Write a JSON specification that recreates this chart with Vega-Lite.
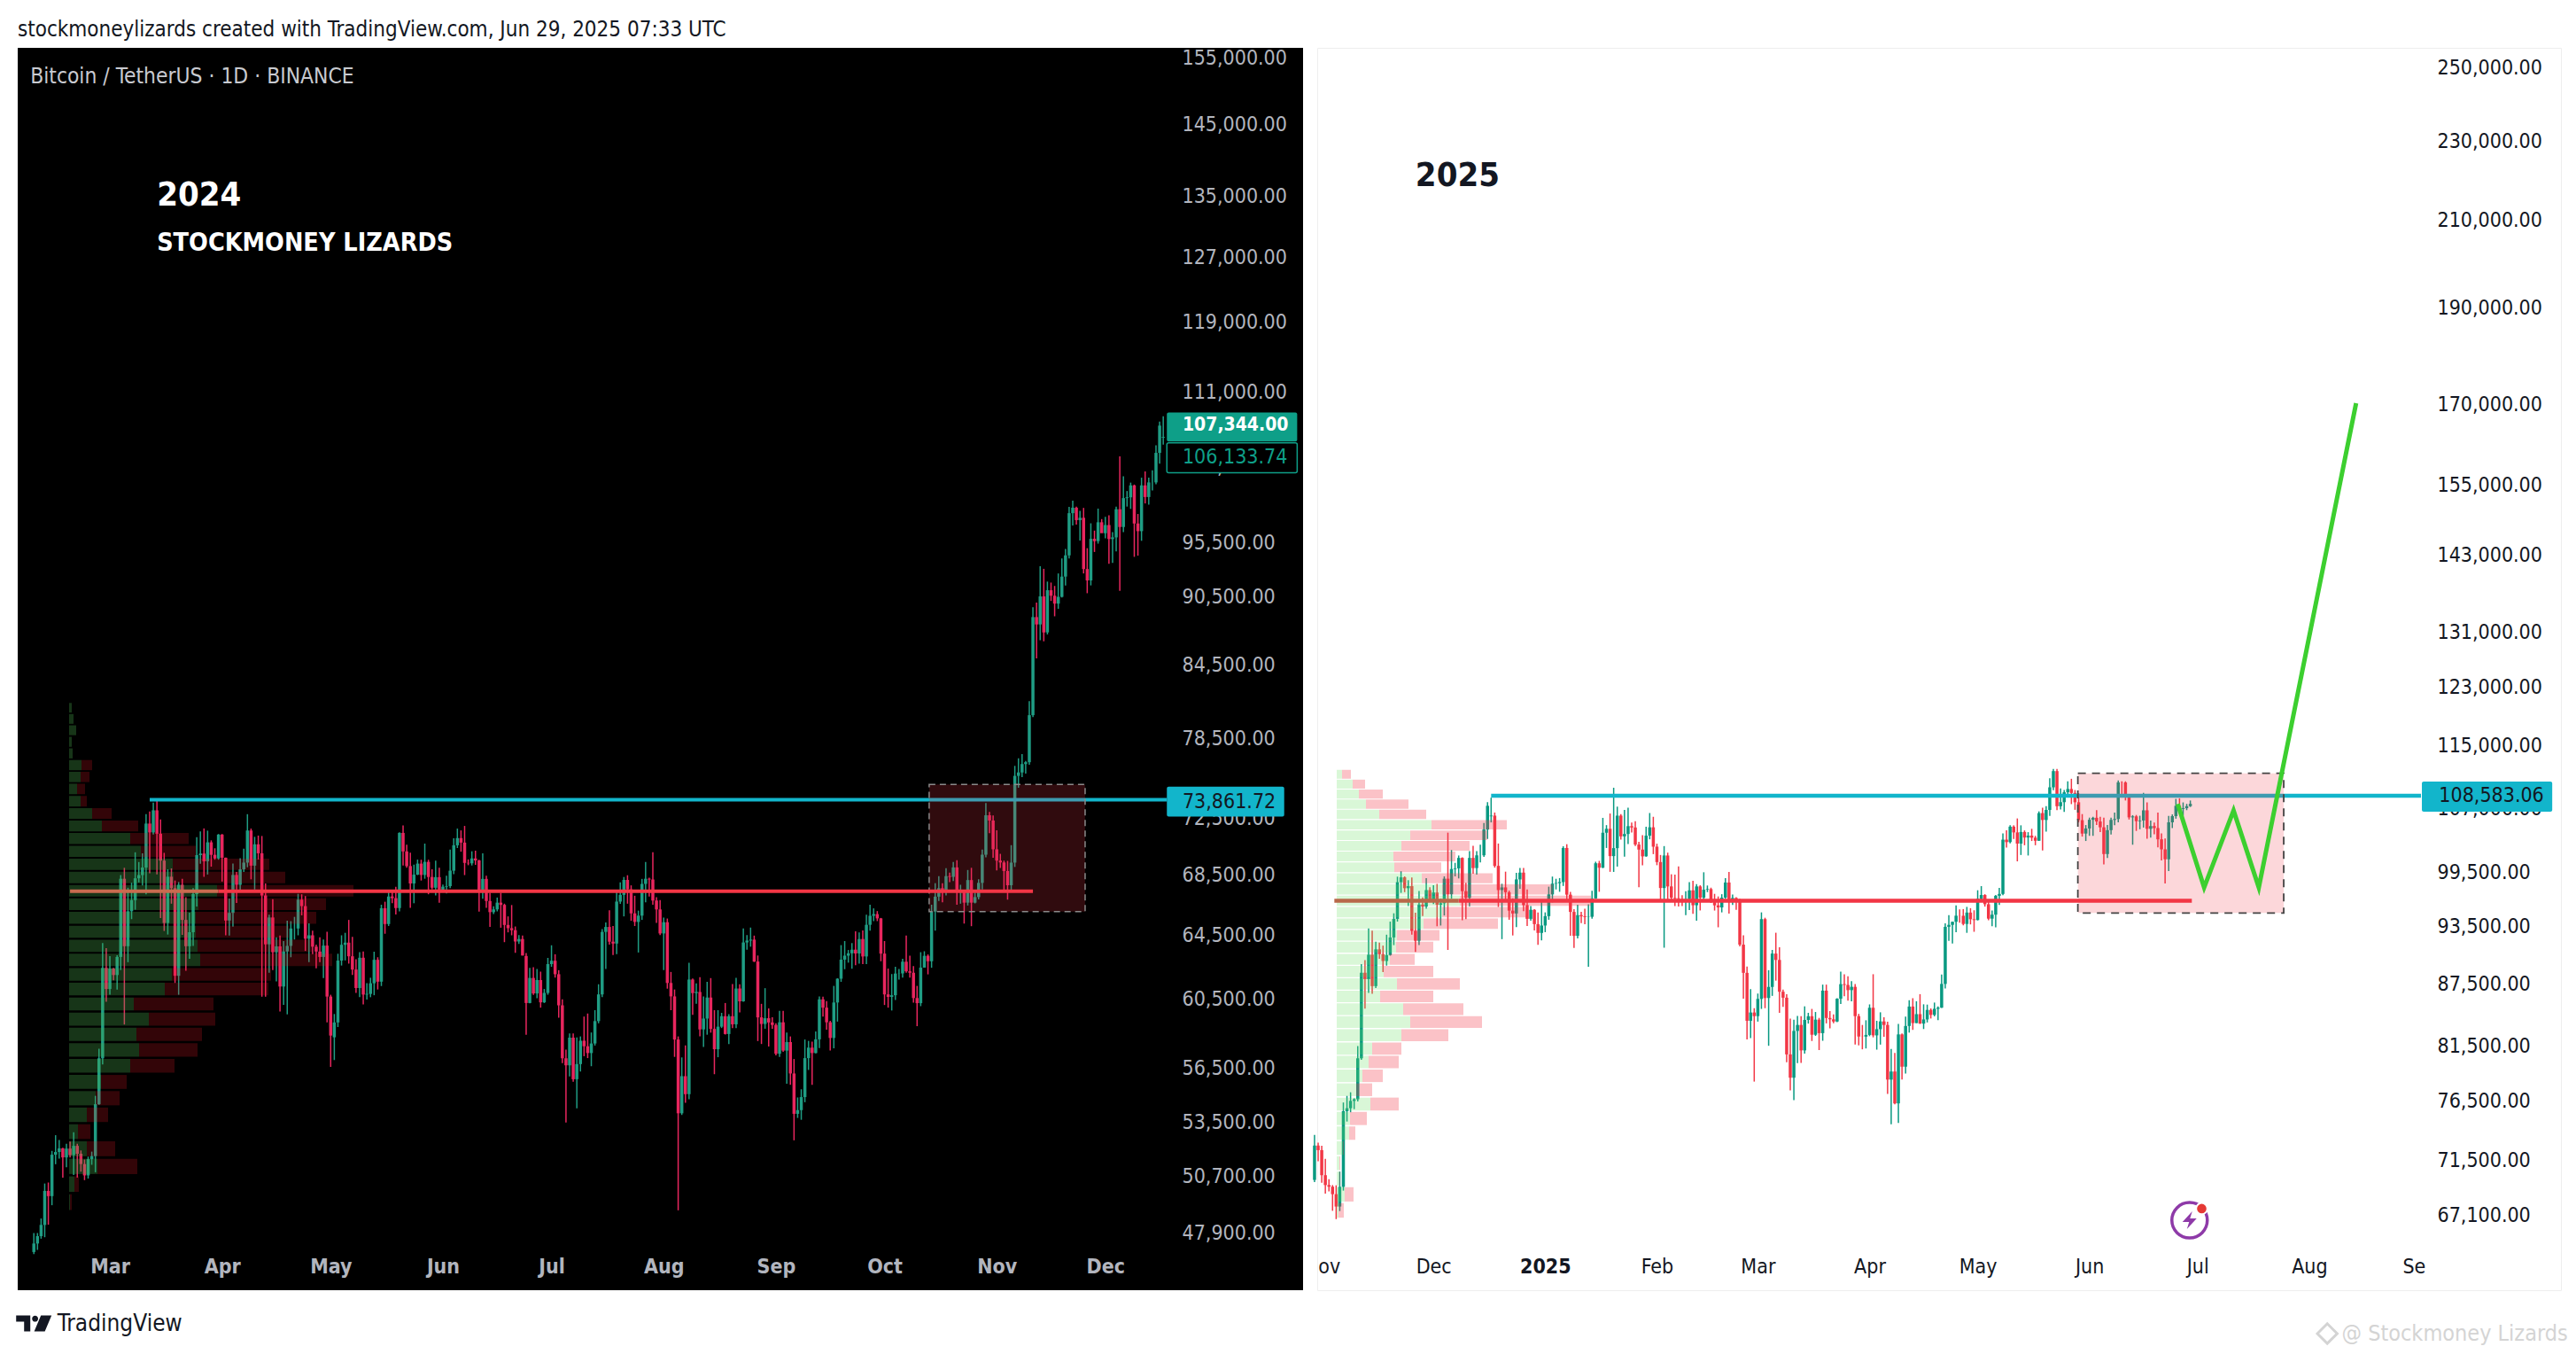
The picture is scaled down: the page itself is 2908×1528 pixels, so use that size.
{
"$schema":"https://vega.github.io/schema/vega-lite/v6.json",
"description":"Bitcoin 2024 vs 2025 daily candles with volume profile and drawn levels.",
"background":"white",
"padding":{"left":18,"top":21,"right":0,"bottom":0},
"spacing":10,
"title":{"text":"stockmoneylizards created with TradingView.com, Jun 29, 2025 07:33 UTC","anchor":"start","frame":"group","fontSize":24,"fontWeight":"normal","color":"#131722","offset":8},
"config":{"font":"DejaVu Sans Condensed","view":{"stroke":null}},
"datasets":{
"ohlc":[
{"d":"2024-02-09","o":47000,"h":47900,"l":46900,"c":47400},
{"d":"2024-02-10","o":47400,"h":47900,"l":47100,"c":47750},
{"d":"2024-02-11","o":47750,"h":48600,"l":47630,"c":48290},
{"d":"2024-02-12","o":48290,"h":50330,"l":47700,"c":49960},
{"d":"2024-02-13","o":49960,"h":50380,"l":48300,"c":49700},
{"d":"2024-02-14","o":49700,"h":52000,"l":49250,"c":51800},
{"d":"2024-02-15","o":51800,"h":52820,"l":51310,"c":51940},
{"d":"2024-02-16","o":51940,"h":52570,"l":51600,"c":52130},
{"d":"2024-02-17","o":52130,"h":52160,"l":50620,"c":51660},
{"d":"2024-02-18","o":51660,"h":52370,"l":51160,"c":52120},
{"d":"2024-02-19","o":52120,"h":52480,"l":51660,"c":51780},
{"d":"2024-02-20","o":51780,"h":52980,"l":50760,"c":52260},
{"d":"2024-02-21","o":52260,"h":52370,"l":50630,"c":51850},
{"d":"2024-02-22","o":51850,"h":52020,"l":50930,"c":51320},
{"d":"2024-02-23","o":51320,"h":51550,"l":50500,"c":50740},
{"d":"2024-02-24","o":50740,"h":51700,"l":50580,"c":51570},
{"d":"2024-02-25","o":51570,"h":51960,"l":51280,"c":51730},
{"d":"2024-02-26","o":51730,"h":54940,"l":50900,"c":54480},
{"d":"2024-02-27","o":54480,"h":57590,"l":54450,"c":57040},
{"d":"2024-02-28","o":57040,"h":64000,"l":56690,"c":62430},
{"d":"2024-02-29","o":62430,"h":63680,"l":60360,"c":61130},
{"d":"2024-03-01","o":61130,"h":63170,"l":60780,"c":62390},
{"d":"2024-03-02","o":62390,"h":62430,"l":61660,"c":61990},
{"d":"2024-03-03","o":61990,"h":63230,"l":61100,"c":63120},
{"d":"2024-03-04","o":63120,"h":68500,"l":62300,"c":68250},
{"d":"2024-03-05","o":68250,"h":69000,"l":59000,"c":63800},
{"d":"2024-03-06","o":63800,"h":67640,"l":62790,"c":66070},
{"d":"2024-03-07","o":66070,"h":67980,"l":65550,"c":66810},
{"d":"2024-03-08","o":66810,"h":70080,"l":66170,"c":68280},
{"d":"2024-03-09","o":68280,"h":69400,"l":68000,"c":68500},
{"d":"2024-03-10","o":68500,"h":70000,"l":67790,"c":69020},
{"d":"2024-03-11","o":69020,"h":72800,"l":67190,"c":72120},
{"d":"2024-03-12","o":72120,"h":73000,"l":68620,"c":71480},
{"d":"2024-03-13","o":71480,"h":73650,"l":71330,"c":73080},
{"d":"2024-03-14","o":73080,"h":73780,"l":68550,"c":71390},
{"d":"2024-03-15","o":71390,"h":72420,"l":65630,"c":69500},
{"d":"2024-03-16","o":69500,"h":70040,"l":64780,"c":65300},
{"d":"2024-03-17","o":65300,"h":68900,"l":64550,"c":68390},
{"d":"2024-03-18","o":68390,"h":68960,"l":66570,"c":67610},
{"d":"2024-03-19","o":67610,"h":68130,"l":61500,"c":61940},
{"d":"2024-03-20","o":61940,"h":68030,"l":60780,"c":67840},
{"d":"2024-03-21","o":67840,"h":68240,"l":64530,"c":65500},
{"d":"2024-03-22","o":65500,"h":67000,"l":62260,"c":63800},
{"d":"2024-03-23","o":63800,"h":65970,"l":63000,"c":64700},
{"d":"2024-03-24","o":64700,"h":67620,"l":63820,"c":67210},
{"d":"2024-03-25","o":67210,"h":71150,"l":66390,"c":69880},
{"d":"2024-03-26","o":69880,"h":71560,"l":69280,"c":69990},
{"d":"2024-03-27","o":69990,"h":71770,"l":68380,"c":69450},
{"d":"2024-03-28","o":69450,"h":71610,"l":68540,"c":70780},
{"d":"2024-03-29","o":70780,"h":70920,"l":69080,"c":69900},
{"d":"2024-03-30","o":69900,"h":70360,"l":69560,"c":69650},
{"d":"2024-03-31","o":69650,"h":71370,"l":69560,"c":71330},
{"d":"2024-04-01","o":71330,"h":71370,"l":68060,"c":69700},
{"d":"2024-04-02","o":69700,"h":69710,"l":64500,"c":65460},
{"d":"2024-04-03","o":65460,"h":66910,"l":64490,"c":65960},
{"d":"2024-04-04","o":65960,"h":69290,"l":65060,"c":68510},
{"d":"2024-04-05","o":68510,"h":68720,"l":66620,"c":67840},
{"d":"2024-04-06","o":67840,"h":69670,"l":67450,"c":68900},
{"d":"2024-04-07","o":68900,"h":70330,"l":68720,"c":69360},
{"d":"2024-04-08","o":69360,"h":72800,"l":69040,"c":71620},
{"d":"2024-04-09","o":71620,"h":71760,"l":68210,"c":69150},
{"d":"2024-04-10","o":69150,"h":71170,"l":67520,"c":70640},
{"d":"2024-04-11","o":70640,"h":71260,"l":69570,"c":70010},
{"d":"2024-04-12","o":70010,"h":71230,"l":60660,"c":67120},
{"d":"2024-04-13","o":67120,"h":67930,"l":60660,"c":63920},
{"d":"2024-04-14","o":63920,"h":65840,"l":62130,"c":65660},
{"d":"2024-04-15","o":65660,"h":66870,"l":62300,"c":63420},
{"d":"2024-04-16","o":63420,"h":64370,"l":61600,"c":63790},
{"d":"2024-04-17","o":63790,"h":64480,"l":59770,"c":61280},
{"d":"2024-04-18","o":61280,"h":64130,"l":60170,"c":63470},
{"d":"2024-04-19","o":63470,"h":65450,"l":59600,"c":63820},
{"d":"2024-04-20","o":63820,"h":65420,"l":63100,"c":64940},
{"d":"2024-04-21","o":64940,"h":65700,"l":64230,"c":64940},
{"d":"2024-04-22","o":64940,"h":67230,"l":64500,"c":66840},
{"d":"2024-04-23","o":66840,"h":67200,"l":65800,"c":66410},
{"d":"2024-04-24","o":66410,"h":67080,"l":63500,"c":64280},
{"d":"2024-04-25","o":64280,"h":65280,"l":62800,"c":64500},
{"d":"2024-04-26","o":64500,"h":64800,"l":63300,"c":63770},
{"d":"2024-04-27","o":63770,"h":63900,"l":62400,"c":63460},
{"d":"2024-04-28","o":63460,"h":64370,"l":62800,"c":63120},
{"d":"2024-04-29","o":63120,"h":64230,"l":61800,"c":63840},
{"d":"2024-04-30","o":63840,"h":64730,"l":59120,"c":60670},
{"d":"2024-05-01","o":60670,"h":60780,"l":56550,"c":58350},
{"d":"2024-05-02","o":58250,"h":59620,"l":56940,"c":59120},
{"d":"2024-05-03","o":59120,"h":63320,"l":58850,"c":62890},
{"d":"2024-05-04","o":62890,"h":64500,"l":62580,"c":63890},
{"d":"2024-05-05","o":63890,"h":64660,"l":62900,"c":64030},
{"d":"2024-05-06","o":64030,"h":65500,"l":62700,"c":63160},
{"d":"2024-05-07","o":63160,"h":64400,"l":62000,"c":62330},
{"d":"2024-05-08","o":62330,"h":62980,"l":60890,"c":61190},
{"d":"2024-05-09","o":61190,"h":63420,"l":60630,"c":63070},
{"d":"2024-05-10","o":63070,"h":63470,"l":60190,"c":60790},
{"d":"2024-05-11","o":60790,"h":61490,"l":60490,"c":60830},
{"d":"2024-05-12","o":60830,"h":61820,"l":60630,"c":61480},
{"d":"2024-05-13","o":61480,"h":63450,"l":60750,"c":62940},
{"d":"2024-05-14","o":62940,"h":63100,"l":61100,"c":61580},
{"d":"2024-05-15","o":61580,"h":66500,"l":61310,"c":66270},
{"d":"2024-05-16","o":66270,"h":66700,"l":64600,"c":65230},
{"d":"2024-05-17","o":65230,"h":67400,"l":65100,"c":67050},
{"d":"2024-05-18","o":67050,"h":67450,"l":66600,"c":66940},
{"d":"2024-05-19","o":66940,"h":67700,"l":65860,"c":66280},
{"d":"2024-05-20","o":66280,"h":71500,"l":66060,"c":71450},
{"d":"2024-05-21","o":71450,"h":71980,"l":69160,"c":70140},
{"d":"2024-05-22","o":70140,"h":70620,"l":69000,"c":69120},
{"d":"2024-05-23","o":69120,"h":70050,"l":66300,"c":67930},
{"d":"2024-05-24","o":67930,"h":69220,"l":66600,"c":68530},
{"d":"2024-05-25","o":68530,"h":69570,"l":68500,"c":69290},
{"d":"2024-05-26","o":69290,"h":69560,"l":68130,"c":68510},
{"d":"2024-05-27","o":68510,"h":70690,"l":68250,"c":69410},
{"d":"2024-05-28","o":69410,"h":69560,"l":67200,"c":68370},
{"d":"2024-05-29","o":68370,"h":68900,"l":67530,"c":67640},
{"d":"2024-05-30","o":67640,"h":69500,"l":67120,"c":68360},
{"d":"2024-05-31","o":68360,"h":69000,"l":66630,"c":67490},
{"d":"2024-06-01","o":67490,"h":67860,"l":67380,"c":67710},
{"d":"2024-06-02","o":67710,"h":68450,"l":67260,"c":67750},
{"d":"2024-06-03","o":67750,"h":70270,"l":67610,"c":68800},
{"d":"2024-06-04","o":68800,"h":71060,"l":68560,"c":70570},
{"d":"2024-06-05","o":70570,"h":71760,"l":70380,"c":71080},
{"d":"2024-06-06","o":71080,"h":71630,"l":70120,"c":70760},
{"d":"2024-06-07","o":70760,"h":71950,"l":68500,"c":69340},
{"d":"2024-06-08","o":69340,"h":69580,"l":69180,"c":69310},
{"d":"2024-06-09","o":69310,"h":70150,"l":69160,"c":69650},
{"d":"2024-06-10","o":69650,"h":70190,"l":69210,"c":69510},
{"d":"2024-06-11","o":69510,"h":69560,"l":66050,"c":67320},
{"d":"2024-06-12","o":67320,"h":70000,"l":66900,"c":68240},
{"d":"2024-06-13","o":68240,"h":68450,"l":66300,"c":66750},
{"d":"2024-06-14","o":66750,"h":67300,"l":65050,"c":66010},
{"d":"2024-06-15","o":66010,"h":66400,"l":65890,"c":66190},
{"d":"2024-06-16","o":66190,"h":66980,"l":66060,"c":66640},
{"d":"2024-06-17","o":66640,"h":67300,"l":64990,"c":66490},
{"d":"2024-06-18","o":66490,"h":66570,"l":64060,"c":65170},
{"d":"2024-06-19","o":65170,"h":65730,"l":64690,"c":64960},
{"d":"2024-06-20","o":64960,"h":66480,"l":64500,"c":64830},
{"d":"2024-06-21","o":64830,"h":65070,"l":63380,"c":64100},
{"d":"2024-06-22","o":64100,"h":64520,"l":63940,"c":64260},
{"d":"2024-06-23","o":64260,"h":64480,"l":63210,"c":63210},
{"d":"2024-06-24","o":63180,"h":63370,"l":58400,"c":60280},
{"d":"2024-06-25","o":60280,"h":62430,"l":60260,"c":61810},
{"d":"2024-06-26","o":61810,"h":62480,"l":60770,"c":60860},
{"d":"2024-06-27","o":60860,"h":62370,"l":60570,"c":61680},
{"d":"2024-06-28","o":61680,"h":62200,"l":60000,"c":60320},
{"d":"2024-06-29","o":60320,"h":61130,"l":60280,"c":60890},
{"d":"2024-06-30","o":60890,"h":63060,"l":60780,"c":62670},
{"d":"2024-07-01","o":62670,"h":63860,"l":62500,"c":62880},
{"d":"2024-07-02","o":62880,"h":63290,"l":61830,"c":62040},
{"d":"2024-07-03","o":62040,"h":62290,"l":59400,"c":60140},
{"d":"2024-07-04","o":60140,"h":60500,"l":56770,"c":57040},
{"d":"2024-07-05","o":57040,"h":57530,"l":53500,"c":56640},
{"d":"2024-07-06","o":56640,"h":58470,"l":56020,"c":58230},
{"d":"2024-07-07","o":58230,"h":58470,"l":55720,"c":55860},
{"d":"2024-07-08","o":55860,"h":58240,"l":54260,"c":56710},
{"d":"2024-07-09","o":56710,"h":58300,"l":56290,"c":58050},
{"d":"2024-07-10","o":58050,"h":59470,"l":57160,"c":57730},
{"d":"2024-07-11","o":57730,"h":59650,"l":57050,"c":57340},
{"d":"2024-07-12","o":57340,"h":58530,"l":56590,"c":57890},
{"d":"2024-07-13","o":57890,"h":59850,"l":57770,"c":59200},
{"d":"2024-07-14","o":59200,"h":61420,"l":59070,"c":60800},
{"d":"2024-07-15","o":60800,"h":64900,"l":60630,"c":64720},
{"d":"2024-07-16","o":64720,"h":65330,"l":62370,"c":65040},
{"d":"2024-07-17","o":65040,"h":66130,"l":63900,"c":64090},
{"d":"2024-07-18","o":64090,"h":65100,"l":63240,"c":63970},
{"d":"2024-07-19","o":63970,"h":67390,"l":63300,"c":66710},
{"d":"2024-07-20","o":66710,"h":68000,"l":66560,"c":67160},
{"d":"2024-07-21","o":67160,"h":68370,"l":65730,"c":68170},
{"d":"2024-07-22","o":68170,"h":68490,"l":66570,"c":67530},
{"d":"2024-07-23","o":67530,"h":67800,"l":65440,"c":65930},
{"d":"2024-07-24","o":65930,"h":67100,"l":65100,"c":65370},
{"d":"2024-07-25","o":65370,"h":66110,"l":63400,"c":65780},
{"d":"2024-07-26","o":65780,"h":68240,"l":65500,"c":67900},
{"d":"2024-07-27","o":67900,"h":69400,"l":66660,"c":68250},
{"d":"2024-07-28","o":68250,"h":68320,"l":67050,"c":68200},
{"d":"2024-07-29","o":68200,"h":70080,"l":66500,"c":66780},
{"d":"2024-07-30","o":66780,"h":67000,"l":65300,"c":66190},
{"d":"2024-07-31","o":66190,"h":66810,"l":64520,"c":64620},
{"d":"2024-08-01","o":64620,"h":65650,"l":62300,"c":65350},
{"d":"2024-08-02","o":65350,"h":65590,"l":61150,"c":61500},
{"d":"2024-08-03","o":61500,"h":62180,"l":59850,"c":60680},
{"d":"2024-08-04","o":60680,"h":61100,"l":57120,"c":58120},
{"d":"2024-08-05","o":58120,"h":58300,"l":49000,"c":53990},
{"d":"2024-08-06","o":53990,"h":57090,"l":53900,"c":56030},
{"d":"2024-08-07","o":56030,"h":57780,"l":54560,"c":55030},
{"d":"2024-08-08","o":55030,"h":62750,"l":54750,"c":61710},
{"d":"2024-08-09","o":61710,"h":61780,"l":59570,"c":60880},
{"d":"2024-08-10","o":60880,"h":61470,"l":60240,"c":60950},
{"d":"2024-08-11","o":60950,"h":61860,"l":58300,"c":58710},
{"d":"2024-08-12","o":58710,"h":60680,"l":57690,"c":59350},
{"d":"2024-08-13","o":59350,"h":61570,"l":58400,"c":60610},
{"d":"2024-08-14","o":60610,"h":61800,"l":58520,"c":58740},
{"d":"2024-08-15","o":58740,"h":59850,"l":56140,"c":57560},
{"d":"2024-08-16","o":57560,"h":59850,"l":57100,"c":58870},
{"d":"2024-08-17","o":58870,"h":59690,"l":58790,"c":59490},
{"d":"2024-08-18","o":59490,"h":60280,"l":58410,"c":58440},
{"d":"2024-08-19","o":58440,"h":59610,"l":57860,"c":59490},
{"d":"2024-08-20","o":59490,"h":61430,"l":58780,"c":59010},
{"d":"2024-08-21","o":59010,"h":61820,"l":58790,"c":61160},
{"d":"2024-08-22","o":61160,"h":61420,"l":59720,"c":60380},
{"d":"2024-08-23","o":60380,"h":64950,"l":60350,"c":64040},
{"d":"2024-08-24","o":64040,"h":64520,"l":63580,"c":64160},
{"d":"2024-08-25","o":64160,"h":65000,"l":63770,"c":64220},
{"d":"2024-08-26","o":64220,"h":64480,"l":62800,"c":62830},
{"d":"2024-08-27","o":62830,"h":63210,"l":58030,"c":59420},
{"d":"2024-08-28","o":59420,"h":60230,"l":57860,"c":59030},
{"d":"2024-08-29","o":59030,"h":61180,"l":58750,"c":59370},
{"d":"2024-08-30","o":59370,"h":59950,"l":57720,"c":59120},
{"d":"2024-08-31","o":59120,"h":59430,"l":58740,"c":58970},
{"d":"2024-09-01","o":58970,"h":59070,"l":57200,"c":57300},
{"d":"2024-09-02","o":57300,"h":59810,"l":57120,"c":59130},
{"d":"2024-09-03","o":59130,"h":59810,"l":57410,"c":57480},
{"d":"2024-09-04","o":57480,"h":58520,"l":55610,"c":57970},
{"d":"2024-09-05","o":57970,"h":58300,"l":55550,"c":56180},
{"d":"2024-09-06","o":56180,"h":57000,"l":52550,"c":53960},
{"d":"2024-09-07","o":53960,"h":54850,"l":53740,"c":54160},
{"d":"2024-09-08","o":54160,"h":55300,"l":53640,"c":54870},
{"d":"2024-09-09","o":54870,"h":58120,"l":54590,"c":57050},
{"d":"2024-09-10","o":57050,"h":58040,"l":56380,"c":57650},
{"d":"2024-09-11","o":57650,"h":58000,"l":55550,"c":57340},
{"d":"2024-09-12","o":57340,"h":58590,"l":57320,"c":58130},
{"d":"2024-09-13","o":58130,"h":60670,"l":57630,"c":60500},
{"d":"2024-09-14","o":60500,"h":60660,"l":59470,"c":60000},
{"d":"2024-09-15","o":60000,"h":60390,"l":58700,"c":59130},
{"d":"2024-09-16","o":59130,"h":59210,"l":57490,"c":58210},
{"d":"2024-09-17","o":58210,"h":61320,"l":57610,"c":60310},
{"d":"2024-09-18","o":60310,"h":61790,"l":59170,"c":61760},
{"d":"2024-09-19","o":61760,"h":63870,"l":61570,"c":62950},
{"d":"2024-09-20","o":62950,"h":64130,"l":62350,"c":63200},
{"d":"2024-09-21","o":63200,"h":63560,"l":62760,"c":63350},
{"d":"2024-09-22","o":63350,"h":64000,"l":62380,"c":63580},
{"d":"2024-09-23","o":63580,"h":64750,"l":62600,"c":63340},
{"d":"2024-09-24","o":63340,"h":64690,"l":62700,"c":64260},
{"d":"2024-09-25","o":64260,"h":64820,"l":62670,"c":63150},
{"d":"2024-09-26","o":63150,"h":65840,"l":62670,"c":65180},
{"d":"2024-09-27","o":65180,"h":66500,"l":64800,"c":65770},
{"d":"2024-09-28","o":65770,"h":66260,"l":65420,"c":65880},
{"d":"2024-09-29","o":65880,"h":66080,"l":65420,"c":65600},
{"d":"2024-09-30","o":65600,"h":65630,"l":62850,"c":63330},
{"d":"2024-10-01","o":63330,"h":64130,"l":60160,"c":60800},
{"d":"2024-10-02","o":60800,"h":62390,"l":60000,"c":60650},
{"d":"2024-10-03","o":60650,"h":62050,"l":59830,"c":60750},
{"d":"2024-10-04","o":60750,"h":62500,"l":60460,"c":62080},
{"d":"2024-10-05","o":62080,"h":62370,"l":61700,"c":62090},
{"d":"2024-10-06","o":62090,"h":63000,"l":61830,"c":62820},
{"d":"2024-10-07","o":62820,"h":64480,"l":62130,"c":62220},
{"d":"2024-10-08","o":62220,"h":63200,"l":61830,"c":62130},
{"d":"2024-10-09","o":62130,"h":62540,"l":60300,"c":60580},
{"d":"2024-10-10","o":60580,"h":61320,"l":58900,"c":60270},
{"d":"2024-10-11","o":60270,"h":63420,"l":60090,"c":62450},
{"d":"2024-10-12","o":62450,"h":63480,"l":62450,"c":63190},
{"d":"2024-10-13","o":63190,"h":63280,"l":62030,"c":62850},
{"d":"2024-10-14","o":62850,"h":66500,"l":62440,"c":66050},
{"d":"2024-10-15","o":66050,"h":67950,"l":64800,"c":67040},
{"d":"2024-10-16","o":67040,"h":68420,"l":66750,"c":67610},
{"d":"2024-10-17","o":67610,"h":67940,"l":66670,"c":67400},
{"d":"2024-10-18","o":67400,"h":68970,"l":67120,"c":68430},
{"d":"2024-10-19","o":68430,"h":68670,"l":68020,"c":68380},
{"d":"2024-10-20","o":68380,"h":69400,"l":68100,"c":69030},
{"d":"2024-10-21","o":69030,"h":69520,"l":66500,"c":67360},
{"d":"2024-10-22","o":67360,"h":67840,"l":66570,"c":67360},
{"d":"2024-10-23","o":67360,"h":67400,"l":65260,"c":66640},
{"d":"2024-10-24","o":66640,"h":68850,"l":66450,"c":68160},
{"d":"2024-10-25","o":68160,"h":69000,"l":65090,"c":66640},
{"d":"2024-10-26","o":66640,"h":67320,"l":66590,"c":67010},
{"d":"2024-10-27","o":67010,"h":68220,"l":66850,"c":67970},
{"d":"2024-10-28","o":67970,"h":70270,"l":67520,"c":69910},
{"d":"2024-10-29","o":69910,"h":73620,"l":69730,"c":72720},
{"d":"2024-10-30","o":72720,"h":72960,"l":71430,"c":72340},
{"d":"2024-10-31","o":72340,"h":72700,"l":69690,"c":70290},
{"d":"2024-11-01","o":70290,"h":71630,"l":68820,"c":69500},
{"d":"2024-11-02","o":69500,"h":69970,"l":68990,"c":69370},
{"d":"2024-11-03","o":69370,"h":69500,"l":67480,"c":68780},
{"d":"2024-11-04","o":68780,"h":69480,"l":66840,"c":67810},
{"d":"2024-11-05","o":67810,"h":70580,"l":67460,"c":69360},
{"d":"2024-11-06","o":69360,"h":76400,"l":69060,"c":75640},
{"d":"2024-11-07","o":75640,"h":76980,"l":74750,"c":75900},
{"d":"2024-11-08","o":75900,"h":77300,"l":75550,"c":76540},
{"d":"2024-11-09","o":76540,"h":76770,"l":75820,"c":76680},
{"d":"2024-11-10","o":76680,"h":81500,"l":76490,"c":80370},
{"d":"2024-11-11","o":80370,"h":89530,"l":80220,"c":88650},
{"d":"2024-11-12","o":88650,"h":89940,"l":85070,"c":88000},
{"d":"2024-11-13","o":88000,"h":93270,"l":86620,"c":90500},
{"d":"2024-11-14","o":90500,"h":93030,"l":86530,"c":87300},
{"d":"2024-11-15","o":87300,"h":91850,"l":87120,"c":91060},
{"d":"2024-11-16","o":91060,"h":91760,"l":90090,"c":90560},
{"d":"2024-11-17","o":90560,"h":91450,"l":88720,"c":89850},
{"d":"2024-11-18","o":89850,"h":92600,"l":89380,"c":90460},
{"d":"2024-11-19","o":90460,"h":94000,"l":90400,"c":92310},
{"d":"2024-11-20","o":92310,"h":94900,"l":91500,"c":94290},
{"d":"2024-11-21","o":94290,"h":98970,"l":94000,"c":98350},
{"d":"2024-11-22","o":98350,"h":99590,"l":97150,"c":98890},
{"d":"2024-11-23","o":98890,"h":99000,"l":97230,"c":97670},
{"d":"2024-11-24","o":97670,"h":98570,"l":95700,"c":97900},
{"d":"2024-11-25","o":97900,"h":98870,"l":92600,"c":93010},
{"d":"2024-11-26","o":93010,"h":94970,"l":90790,"c":91960},
{"d":"2024-11-27","o":91960,"h":97360,"l":91500,"c":95860},
{"d":"2024-11-28","o":95860,"h":96650,"l":94610,"c":95640},
{"d":"2024-11-29","o":95640,"h":98800,"l":95400,"c":97460},
{"d":"2024-11-30","o":97460,"h":97770,"l":96550,"c":96400},
{"d":"2024-12-01","o":96400,"h":98000,"l":95900,"c":97190},
{"d":"2024-12-02","o":97190,"h":98150,"l":93500,"c":95840},
{"d":"2024-12-03","o":95840,"h":96500,"l":93580,"c":96000},
{"d":"2024-12-04","o":96000,"h":99000,"l":94660,"c":98740},
{"d":"2024-12-05","o":98740,"h":104090,"l":91000,"c":97000},
{"d":"2024-12-06","o":97000,"h":102040,"l":96500,"c":99840},
{"d":"2024-12-07","o":99840,"h":100550,"l":99000,"c":99920},
{"d":"2024-12-08","o":99920,"h":101400,"l":98770,"c":101120},
{"d":"2024-12-09","o":101120,"h":101200,"l":94150,"c":97340},
{"d":"2024-12-10","o":97340,"h":98270,"l":94260,"c":96600},
{"d":"2024-12-11","o":96600,"h":101900,"l":95670,"c":101120},
{"d":"2024-12-12","o":101120,"h":102540,"l":99310,"c":99950},
{"d":"2024-12-13","o":99950,"h":101900,"l":99200,"c":101420},
{"d":"2024-12-14","o":101420,"h":102650,"l":100610,"c":101420},
{"d":"2024-12-15","o":101420,"h":105250,"l":101240,"c":104460},
{"d":"2024-12-16","o":104460,"h":107780,"l":103330,"c":107344},
{"d":"2024-12-17","o":106060,"h":108350,"l":105320,"c":106140},
{"d":"2024-12-18","o":106140,"h":106520,"l":100000,"c":100200},
{"d":"2024-12-19","o":100200,"h":102800,"l":95590,"c":97460},
{"d":"2024-12-20","o":97460,"h":98170,"l":92130,"c":97760},
{"d":"2024-12-21","o":97760,"h":99540,"l":96400,"c":97220},
{"d":"2024-12-22","o":97220,"h":97400,"l":94200,"c":95190},
{"d":"2024-12-23","o":95190,"h":96540,"l":92520,"c":94880},
{"d":"2024-12-24","o":94880,"h":99400,"l":93400,"c":98660},
{"d":"2024-12-25","o":98660,"h":99960,"l":97600,"c":99430},
{"d":"2024-12-26","o":99430,"h":99960,"l":95140,"c":95790},
{"d":"2024-12-27","o":95790,"h":97540,"l":93530,"c":94300},
{"d":"2024-12-28","o":94300,"h":95680,"l":94110,"c":95280},
{"d":"2024-12-29","o":95280,"h":95350,"l":93050,"c":93730},
{"d":"2024-12-30","o":93730,"h":95000,"l":91530,"c":92790},
{"d":"2024-12-31","o":92790,"h":96150,"l":92000,"c":93580},
{"d":"2025-01-01","o":93580,"h":95000,"l":92870,"c":94590},
{"d":"2025-01-02","o":94590,"h":97840,"l":94200,"c":96980},
{"d":"2025-01-03","o":96980,"h":98980,"l":96100,"c":98180},
{"d":"2025-01-04","o":98180,"h":98730,"l":97530,"c":98240},
{"d":"2025-01-05","o":98240,"h":98810,"l":97270,"c":98360},
{"d":"2025-01-06","o":98360,"h":102480,"l":97920,"c":102280},
{"d":"2025-01-07","o":102280,"h":102720,"l":96130,"c":96950},
{"d":"2025-01-08","o":96950,"h":97260,"l":92500,"c":95050},
{"d":"2025-01-09","o":95050,"h":95350,"l":91200,"c":92480},
{"d":"2025-01-10","o":92480,"h":95840,"l":92200,"c":94700},
{"d":"2025-01-11","o":94700,"h":95050,"l":93830,"c":94570},
{"d":"2025-01-12","o":94570,"h":95400,"l":93710,"c":94490},
{"d":"2025-01-13","o":94490,"h":95890,"l":89260,"c":94520},
{"d":"2025-01-14","o":94520,"h":97370,"l":94310,"c":96530},
{"d":"2025-01-15","o":96530,"h":100680,"l":96500,"c":100500},
{"d":"2025-01-16","o":100500,"h":100780,"l":97270,"c":99990},
{"d":"2025-01-17","o":99990,"h":105870,"l":99950,"c":104080},
{"d":"2025-01-18","o":104080,"h":104990,"l":102280,"c":104550},
{"d":"2025-01-19","o":104550,"h":106400,"l":99520,"c":101330},
{"d":"2025-01-20","o":101330,"h":109590,"l":99510,"c":102260},
{"d":"2025-01-21","o":102260,"h":107240,"l":100120,"c":106140},
{"d":"2025-01-22","o":106140,"h":106330,"l":103260,"c":103650},
{"d":"2025-01-23","o":103650,"h":106850,"l":101260,"c":103930},
{"d":"2025-01-24","o":103930,"h":107120,"l":102750,"c":104870},
{"d":"2025-01-25","o":104870,"h":105290,"l":104110,"c":104710},
{"d":"2025-01-26","o":104710,"h":105470,"l":102510,"c":102680},
{"d":"2025-01-27","o":102680,"h":103000,"l":97780,"c":102090},
{"d":"2025-01-28","o":102090,"h":103780,"l":100270,"c":101300},
{"d":"2025-01-29","o":101300,"h":104800,"l":101260,"c":103730},
{"d":"2025-01-30","o":103730,"h":106460,"l":103300,"c":104730},
{"d":"2025-01-31","o":104730,"h":106000,"l":101560,"c":102430},
{"d":"2025-02-01","o":102430,"h":102780,"l":100280,"c":100640},
{"d":"2025-02-02","o":100640,"h":101460,"l":96150,"c":97690},
{"d":"2025-02-03","o":97690,"h":102500,"l":91230,"c":101400},
{"d":"2025-02-04","o":101400,"h":101730,"l":96150,"c":97870},
{"d":"2025-02-05","o":97870,"h":99240,"l":96150,"c":96610},
{"d":"2025-02-06","o":96610,"h":99200,"l":95680,"c":96550},
{"d":"2025-02-07","o":96550,"h":100140,"l":95650,"c":96470},
{"d":"2025-02-08","o":96470,"h":96880,"l":95680,"c":96450},
{"d":"2025-02-09","o":96450,"h":97320,"l":94710,"c":96470},
{"d":"2025-02-10","o":96470,"h":98350,"l":95250,"c":97430},
{"d":"2025-02-11","o":97430,"h":98500,"l":94850,"c":95780},
{"d":"2025-02-12","o":95780,"h":98120,"l":94090,"c":97870},
{"d":"2025-02-13","o":97870,"h":98000,"l":95210,"c":96610},
{"d":"2025-02-14","o":96610,"h":99470,"l":96420,"c":97500},
{"d":"2025-02-15","o":97500,"h":97970,"l":97230,"c":97570},
{"d":"2025-02-16","o":97570,"h":97730,"l":96040,"c":96120},
{"d":"2025-02-17","o":96120,"h":97040,"l":95200,"c":95770},
{"d":"2025-02-18","o":95770,"h":96750,"l":93390,"c":95540},
{"d":"2025-02-19","o":95540,"h":97000,"l":95000,"c":96620},
{"d":"2025-02-20","o":96620,"h":98800,"l":96460,"c":98310},
{"d":"2025-02-21","o":98310,"h":99500,"l":94870,"c":96120},
{"d":"2025-02-22","o":96120,"h":96950,"l":95800,"c":96580},
{"d":"2025-02-23","o":96580,"h":96670,"l":95270,"c":96270},
{"d":"2025-02-24","o":96270,"h":96500,"l":91370,"c":91550},
{"d":"2025-02-25","o":91550,"h":92540,"l":86050,"c":88640},
{"d":"2025-02-26","o":88640,"h":89290,"l":82130,"c":83900},
{"d":"2025-02-27","o":83900,"h":87000,"l":82260,"c":84700},
{"d":"2025-02-28","o":84700,"h":85120,"l":78250,"c":84350},
{"d":"2025-03-01","o":84350,"h":86560,"l":83820,"c":86030},
{"d":"2025-03-02","o":86030,"h":95000,"l":85050,"c":94270},
{"d":"2025-03-03","o":94270,"h":94420,"l":85120,"c":86120},
{"d":"2025-03-04","o":86120,"h":88910,"l":81530,"c":87220},
{"d":"2025-03-05","o":87220,"h":91000,"l":86330,"c":90620},
{"d":"2025-03-06","o":90620,"h":92810,"l":87850,"c":89960},
{"d":"2025-03-07","o":89960,"h":91280,"l":84670,"c":86740},
{"d":"2025-03-08","o":86740,"h":86950,"l":85260,"c":86150},
{"d":"2025-03-09","o":86150,"h":86500,"l":80000,"c":80730},
{"d":"2025-03-10","o":80730,"h":84120,"l":77460,"c":78600},
{"d":"2025-03-11","o":78600,"h":84000,"l":76600,"c":82930},
{"d":"2025-03-12","o":82930,"h":84360,"l":79930,"c":83500},
{"d":"2025-03-13","o":83500,"h":84340,"l":79940,"c":81100},
{"d":"2025-03-14","o":81100,"h":85300,"l":80800,"c":83980},
{"d":"2025-03-15","o":83980,"h":84670,"l":83630,"c":84340},
{"d":"2025-03-16","o":84340,"h":85050,"l":81980,"c":82570},
{"d":"2025-03-17","o":82570,"h":84750,"l":82460,"c":84010},
{"d":"2025-03-18","o":84010,"h":84180,"l":81130,"c":82720},
{"d":"2025-03-19","o":82720,"h":87450,"l":82000,"c":86850},
{"d":"2025-03-20","o":86850,"h":87450,"l":83650,"c":84170},
{"d":"2025-03-21","o":84170,"h":84850,"l":83170,"c":84040},
{"d":"2025-03-22","o":84040,"h":84520,"l":83670,"c":83830},
{"d":"2025-03-23","o":83830,"h":86100,"l":83770,"c":86050},
{"d":"2025-03-24","o":86050,"h":88770,"l":85540,"c":87500},
{"d":"2025-03-25","o":87500,"h":88500,"l":86300,"c":87420},
{"d":"2025-03-26","o":87420,"h":88290,"l":85860,"c":86900},
{"d":"2025-03-27","o":86900,"h":87800,"l":85800,"c":87230},
{"d":"2025-03-28","o":87230,"h":87500,"l":81640,"c":84350},
{"d":"2025-03-29","o":84350,"h":84570,"l":81570,"c":82400},
{"d":"2025-03-30","o":82400,"h":83500,"l":81200,"c":82390},
{"d":"2025-03-31","o":82390,"h":83950,"l":81280,"c":82550},
{"d":"2025-04-01","o":82550,"h":85490,"l":82430,"c":85160},
{"d":"2025-04-02","o":85160,"h":88500,"l":82320,"c":82510},
{"d":"2025-04-03","o":82510,"h":83900,"l":81170,"c":83100},
{"d":"2025-04-04","o":83100,"h":84720,"l":81640,"c":83840},
{"d":"2025-04-05","o":83840,"h":84230,"l":82370,"c":83500},
{"d":"2025-04-06","o":83500,"h":83820,"l":77150,"c":78430},
{"d":"2025-04-07","o":78430,"h":81240,"l":74510,"c":79160},
{"d":"2025-04-08","o":79160,"h":80870,"l":76240,"c":76320},
{"d":"2025-04-09","o":76320,"h":83590,"l":74620,"c":82600},
{"d":"2025-04-10","o":82600,"h":82700,"l":78430,"c":79600},
{"d":"2025-04-11","o":79600,"h":84300,"l":78970,"c":83400},
{"d":"2025-04-12","o":83400,"h":85900,"l":82770,"c":85280},
{"d":"2025-04-13","o":85280,"h":86100,"l":83030,"c":83680},
{"d":"2025-04-14","o":83680,"h":85800,"l":83680,"c":84540},
{"d":"2025-04-15","o":84540,"h":86500,"l":83600,"c":83630},
{"d":"2025-04-16","o":83630,"h":85500,"l":83110,"c":84030},
{"d":"2025-04-17","o":84030,"h":85470,"l":83740,"c":84950},
{"d":"2025-04-18","o":84950,"h":85100,"l":84120,"c":84470},
{"d":"2025-04-19","o":84470,"h":85670,"l":84330,"c":85060},
{"d":"2025-04-20","o":85060,"h":85300,"l":83950,"c":85170},
{"d":"2025-04-21","o":85170,"h":88460,"l":85140,"c":87520},
{"d":"2025-04-22","o":87520,"h":93820,"l":87060,"c":93440},
{"d":"2025-04-23","o":93440,"h":94700,"l":91940,"c":93650},
{"d":"2025-04-24","o":93650,"h":94000,"l":91660,"c":93980},
{"d":"2025-04-25","o":93980,"h":95760,"l":92860,"c":94640},
{"d":"2025-04-26","o":94640,"h":95320,"l":93880,"c":94630},
{"d":"2025-04-27","o":94630,"h":95360,"l":93600,"c":93750},
{"d":"2025-04-28","o":93750,"h":95600,"l":92800,"c":94980},
{"d":"2025-04-29","o":94980,"h":95460,"l":93700,"c":94260},
{"d":"2025-04-30","o":94260,"h":95230,"l":92910,"c":94170},
{"d":"2025-05-01","o":94170,"h":97440,"l":94130,"c":96490},
{"d":"2025-05-02","o":96490,"h":97900,"l":96330,"c":96910},
{"d":"2025-05-03","o":96910,"h":97000,"l":95630,"c":95890},
{"d":"2025-05-04","o":95890,"h":96300,"l":94150,"c":94320},
{"d":"2025-05-05","o":94320,"h":95200,"l":93500,"c":94750},
{"d":"2025-05-06","o":94750,"h":96920,"l":93380,"c":96820},
{"d":"2025-05-07","o":96820,"h":97700,"l":95800,"c":97030},
{"d":"2025-05-08","o":97030,"h":104000,"l":96880,"c":103260},
{"d":"2025-05-09","o":103260,"h":104360,"l":102320,"c":102970},
{"d":"2025-05-10","o":102970,"h":104970,"l":102820,"c":104810},
{"d":"2025-05-11","o":104810,"h":104970,"l":103340,"c":104120},
{"d":"2025-05-12","o":104120,"h":105800,"l":100720,"c":102790},
{"d":"2025-05-13","o":102790,"h":104970,"l":101460,"c":104170},
{"d":"2025-05-14","o":104170,"h":104360,"l":102600,"c":103510},
{"d":"2025-05-15","o":103510,"h":104150,"l":101400,"c":103740},
{"d":"2025-05-16","o":103740,"h":104550,"l":103100,"c":103490},
{"d":"2025-05-17","o":103490,"h":103710,"l":102600,"c":103130},
{"d":"2025-05-18","o":103130,"h":106660,"l":103110,"c":106450},
{"d":"2025-05-19","o":106450,"h":107100,"l":102000,"c":105610},
{"d":"2025-05-20","o":105610,"h":107310,"l":104200,"c":106840},
{"d":"2025-05-21","o":106840,"h":110800,"l":106100,"c":109640},
{"d":"2025-05-22","o":109640,"h":111980,"l":109290,"c":111700},
{"d":"2025-05-23","o":111700,"h":111980,"l":106800,"c":107290},
{"d":"2025-05-24","o":107290,"h":109500,"l":106880,"c":107790},
{"d":"2025-05-25","o":107790,"h":109310,"l":106600,"c":109020},
{"d":"2025-05-26","o":109020,"h":110400,"l":108700,"c":109430},
{"d":"2025-05-27","o":109430,"h":110720,"l":107550,"c":108940},
{"d":"2025-05-28","o":108940,"h":109300,"l":106850,"c":107780},
{"d":"2025-05-29","o":107780,"h":108900,"l":105320,"c":105590},
{"d":"2025-05-30","o":105590,"h":106330,"l":103620,"c":103980},
{"d":"2025-05-31","o":103980,"h":105000,"l":103100,"c":104590},
{"d":"2025-06-01","o":104590,"h":105900,"l":103710,"c":105640},
{"d":"2025-06-02","o":105640,"h":105990,"l":103700,"c":105880},
{"d":"2025-06-03","o":105880,"h":106800,"l":105000,"c":105430},
{"d":"2025-06-04","o":105430,"h":106000,"l":104170,"c":104730},
{"d":"2025-06-05","o":104730,"h":105900,"l":100370,"c":101570},
{"d":"2025-06-06","o":101570,"h":105000,"l":101100,"c":104390},
{"d":"2025-06-07","o":104390,"h":105900,"l":103860,"c":105620},
{"d":"2025-06-08","o":105620,"h":106500,"l":104970,"c":105730},
{"d":"2025-06-09","o":105730,"h":110500,"l":105340,"c":110270},
{"d":"2025-06-10","o":110270,"h":110400,"l":108360,"c":110260},
{"d":"2025-06-11","o":110260,"h":110400,"l":108000,"c":108680},
{"d":"2025-06-12","o":108680,"h":108800,"l":105670,"c":105930},
{"d":"2025-06-13","o":105930,"h":106200,"l":102660,"c":106050},
{"d":"2025-06-14","o":106050,"h":106220,"l":104300,"c":105470},
{"d":"2025-06-15","o":105470,"h":106130,"l":104500,"c":105550},
{"d":"2025-06-16","o":105550,"h":108950,"l":104700,"c":106790},
{"d":"2025-06-17","o":106790,"h":107770,"l":103370,"c":104550},
{"d":"2025-06-18","o":104550,"h":105550,"l":103500,"c":104880},
{"d":"2025-06-19","o":104880,"h":105300,"l":103900,"c":104640},
{"d":"2025-06-20","o":104640,"h":106500,"l":102340,"c":103300},
{"d":"2025-06-21","o":103300,"h":104000,"l":100840,"c":102120},
{"d":"2025-06-22","o":102120,"h":103400,"l":98200,"c":100960},
{"d":"2025-06-23","o":100960,"h":106100,"l":99600,"c":105330},
{"d":"2025-06-24","o":105330,"h":106290,"l":104640,"c":106080},
{"d":"2025-06-25","o":106080,"h":108200,"l":105770,"c":107340},
{"d":"2025-06-26","o":107340,"h":108270,"l":106600,"c":106950},
{"d":"2025-06-27","o":106950,"h":107760,"l":106150,"c":107050},
{"d":"2025-06-28","o":107050,"h":107580,"l":106810,"c":107300},
{"d":"2025-06-29","o":107300,"h":108000,"l":107200,"c":107580}
],
"profile2024":[
{"hi":81360,"up":3,"tot":3},{"hi":80460,"up":5,"tot":5},{"hi":79560,"up":8,"tot":8},{"hi":78650,"up":3,"tot":3},
{"hi":77750,"up":4,"tot":4},{"hi":76850,"up":14,"tot":26},{"hi":75950,"up":13,"tot":23},{"hi":75050,"up":9,"tot":18},
{"hi":74140,"up":13,"tot":20},{"hi":73240,"up":26,"tot":48},{"hi":72340,"up":37,"tot":78},{"hi":71440,"up":69,"tot":135},
{"hi":70540,"up":81,"tot":143},{"hi":69630,"up":117,"tot":226},{"hi":68730,"up":118,"tot":244},{"hi":67830,"up":167,"tot":321},
{"hi":66930,"up":146,"tot":290},{"hi":66030,"up":143,"tot":279},{"hi":65120,"up":143,"tot":248},{"hi":64220,"up":145,"tot":274},
{"hi":63320,"up":148,"tot":297},{"hi":62420,"up":116,"tot":228},{"hi":61520,"up":108,"tot":225},{"hi":60610,"up":73,"tot":163},
{"hi":59710,"up":90,"tot":165},{"hi":58810,"up":76,"tot":150},{"hi":57910,"up":79,"tot":145},{"hi":57010,"up":69,"tot":119},
{"hi":56100,"up":36,"tot":65},{"hi":55200,"up":30,"tot":57},{"hi":54300,"up":20,"tot":44},{"hi":53400,"up":10,"tot":24},
{"hi":52500,"up":20,"tot":52},{"hi":51590,"up":32,"tot":77},{"hi":50690,"up":6,"tot":11},{"hi":49790,"up":1,"tot":3}
],
"profile2025":[
{"hi":111860,"up":6,"tot":16},{"hi":110610,"up":18,"tot":32},{"hi":109360,"up":25,"tot":52},{"hi":108110,"up":33,"tot":81},
{"hi":106860,"up":48,"tot":101},{"hi":105610,"up":107,"tot":192},{"hi":104350,"up":83,"tot":170},{"hi":103100,"up":73,"tot":150},
{"hi":101850,"up":64,"tot":134},{"hi":100600,"up":65,"tot":118},{"hi":99350,"up":96,"tot":176},{"hi":98100,"up":119,"tot":244},
{"hi":96850,"up":139,"tot":287},{"hi":95600,"up":119,"tot":216},{"hi":94350,"up":98,"tot":182},{"hi":93100,"up":68,"tot":116},
{"hi":91850,"up":67,"tot":109},{"hi":90590,"up":60,"tot":88},{"hi":89340,"up":53,"tot":109},{"hi":88090,"up":68,"tot":139},
{"hi":86840,"up":49,"tot":109},{"hi":85590,"up":75,"tot":143},{"hi":84340,"up":83,"tot":164},{"hi":83090,"up":73,"tot":126},
{"hi":81840,"up":40,"tot":73},{"hi":80590,"up":36,"tot":70},{"hi":79340,"up":29,"tot":52},{"hi":78090,"up":22,"tot":40},
{"hi":76830,"up":38,"tot":70},{"hi":75580,"up":15,"tot":34},{"hi":74330,"up":14,"tot":21},{"hi":73080,"up":7,"tot":8},
{"hi":71830,"up":3,"tot":4},{"hi":70580,"up":3,"tot":4},{"hi":69330,"up":9,"tot":19},{"hi":68080,"up":2,"tot":8}
]
},
"hconcat":[
{
"width":1451,"height":1402,
"view":{"fill":"#000000","stroke":null},
"resolve":{"scale":{"x":"independent"},"axis":{"y":"independent"}},
"layer":[
{
"data":{"name":"ohlc"},
"transform":[{"filter":"time(datum.d)<=time('2024-12-17')"}],
"encoding":{
"x":{"field":"d","type":"temporal","title":null,"scale":{"type":"utc","domain":["2024-02-04T13:00:00Z","2025-01-24T15:00:00Z"]},
"axis":{"orient":"bottom","values":["2024-03-01","2024-04-01","2024-05-01","2024-06-01","2024-07-01","2024-08-01","2024-09-01","2024-10-01","2024-11-01","2024-12-01"],"labelExpr":"utcFormat(datum.value,'%b')","labelPadding":-38,"labelFontSize":23,"labelColor":"#b2b5be","labelFontWeight":"bold","ticks":false,"domain":false,"grid":false,"labelOverlap":false,"labelFlush":false}},
"y":{"field":"l","type":"quantitative","title":null,"scale":{"type":"log","domain":[45240,156580],"nice":false},
"axis":{"orient":"right","values":[155000,145000,135000,127000,119000,111000,103000,95500,90500,84500,78500,72500,68500,64500,60500,56500,53500,50700,47900],"format":",.2f","labelAlign":"left","labelPadding":-137,"labelFontSize":23,"labelColor":"#b2b5be","ticks":false,"domain":false,"grid":false,"labelOverlap":false,"labelFlush":false}},
"color":{"condition":{"test":"datum.c>=datum.o","value":"#1f9d84"},"value":"#e8265e"}
},
"layer":[
{"mark":{"type":"rule","strokeWidth":1.5},"encoding":{"y2":{"field":"h"}}},
{"mark":{"type":"rule","strokeWidth":3.5},"encoding":{"y":{"field":"o","type":"quantitative","title":null},"y2":{"field":"c"}}}
]
},
{
"data":{"values":[
{"x":"2024-03-12","x2":"2024-12-18","p":73861.72}
]},
"mark":{"type":"rule","strokeWidth":4,"color":"#12b5cb"},
"encoding":{"x":{"field":"x","type":"temporal","axis":null,"scale":{"type":"utc","domain":["2024-02-04T13:00:00Z","2025-01-24T15:00:00Z"]}},"x2":{"field":"x2"},"y":{"field":"p","type":"quantitative","axis":null}}
},
{
"data":{"name":"profile2024"},
"transform":[{"calculate":"datum.hi-780","as":"lo"}],
"encoding":{
"x":{"field":"up","type":"quantitative","axis":null,"scale":{"domain":[-58,1393],"nice":false,"zero":false}},
"y":{"field":"hi","type":"quantitative","axis":null},
"y2":{"field":"lo"}
},
"layer":[
{"mark":{"type":"rect","color":"#4caf50","opacity":0.3},"encoding":{"x":{"datum":0,"type":"quantitative","axis":null,"scale":{"domain":[-58,1393],"nice":false,"zero":false}},"x2":{"field":"up"}}},
{"mark":{"type":"rect","color":"#ff1a2a","opacity":0.2},"encoding":{"x2":{"field":"tot"}}}
]
},
{
"encoding":{
"x":{"field":"x","type":"temporal","axis":null,"scale":{"type":"utc","domain":["2024-02-04T13:00:00Z","2025-01-24T15:00:00Z"]}},
"y":{"field":"p","type":"quantitative","axis":null}
},
"layer":[
{"data":{"values":[{"x":"2024-10-13T08:00:00Z","x2":"2024-11-25T10:00:00Z","p":75000,"p2":66040}]},
"mark":{"type":"rect","fill":"#f23645","fillOpacity":0.2,"stroke":"#8a8a8a","strokeWidth":1.5,"strokeDash":[7,5]},"encoding":{"x2":{"field":"x2"},"y2":{"field":"p2"}}},
{"data":{"values":[{"x":"2024-03-31","x2":"2024-11-11","p":67400}]},"mark":{"type":"rule","strokeWidth":4,"color":"#f23645"},"encoding":{"x2":{"field":"x2"}}},
{"data":{"values":[{"x":"2024-02-19","x2":"2024-03-31","p":67400}]},"mark":{"type":"rule","strokeWidth":4,"color":"#c96b4f"},"encoding":{"x2":{"field":"x2"}}},
{"data":{"values":[{"x":"2024-12-18","x2":"2025-01-23","p":108750,"p2":105640}]},"mark":{"type":"rect","fill":"#0e9f88","cornerRadius":2},"encoding":{"x2":{"field":"x2"},"y2":{"field":"p2"}}},
{"data":{"values":[{"x":"2024-12-18","x2":"2025-01-23","p":105520,"p2":102400}]},"mark":{"type":"rect","fill":"#000000","stroke":"#0e9f88","strokeWidth":1.5,"cornerRadius":2},"encoding":{"x2":{"field":"x2"},"y2":{"field":"p2"}}},
{"data":{"values":[{"x":"2024-12-18","x2":"2025-01-19T10:00:00Z","p":74830,"p2":72620}]},"mark":{"type":"rect","fill":"#12b5cb","cornerRadius":2},"encoding":{"x2":{"field":"x2"},"y2":{"field":"p2"}}},
{"data":{"values":[{"x":"2024-12-22T08:00:00Z","p":107344,"t":"107,344.00"}]},"mark":{"type":"text","align":"left","baseline":"middle","fontSize":21,"fontWeight":"bold","color":"#ffffff"},"encoding":{"text":{"field":"t"}}},
{"data":{"values":[{"x":"2024-12-22T08:00:00Z","p":103960,"t":"106,133.74"}]},"mark":{"type":"text","align":"left","baseline":"middle","fontSize":23,"color":"#0e9f88"},"encoding":{"text":{"field":"t"}}},
{"data":{"values":[{"x":"2024-12-22T08:00:00Z","p":73720,"t":"73,861.72"}]},"mark":{"type":"text","align":"left","baseline":"middle","fontSize":23,"color":"#131722"},"encoding":{"text":{"field":"t"}}},
{"data":{"values":[{"x":"2024-02-08","p":152100,"t":"Bitcoin / TetherUS · 1D · BINANCE"}]},"mark":{"type":"text","align":"left","baseline":"middle","fontSize":24.4,"color":"#c8cad0"},"encoding":{"text":{"field":"t"}}},
{"data":{"values":[{"x":"2024-03-14","p":135000,"t":"2024"}]},"mark":{"type":"text","align":"left","baseline":"middle","fontSize":38,"fontWeight":"bold","color":"#ffffff"},"encoding":{"text":{"field":"t"}}},
{"data":{"values":[{"x":"2024-03-14","p":128900,"t":"STOCKMONEY LIZARDS"}]},"mark":{"type":"text","align":"left","baseline":"middle","fontSize":28.5,"fontWeight":"bold","color":"#ffffff"},"encoding":{"text":{"field":"t"}}},
{"data":{"values":[{"x":"2024-02-09","p":43760}]},"mark":{"type":"point","filled":true,"opacity":1,"color":"#131722","size":1600,"shape":"M-1,-.45 H-.2 V.45 H-.55 V-.1 H-1 Z M-.1,-.27 A.17,.17 0 1 1 .24,-.27 A.17,.17 0 1 1 -.1,-.27 Z M.4,-.45 H1 L.62,.45 H.02 Z"}},
{"data":{"values":[{"x":"2024-02-15T12:00:00Z","p":43760,"t":"TradingView"}]},"mark":{"type":"text","align":"left","baseline":"middle","fontSize":26,"color":"#131722"},"encoding":{"text":{"field":"t"}}}
]
}
]
},
{
"width":1404,"height":1402,
"view":{"fill":"#ffffff","stroke":"#eeeeee"},
"resolve":{"scale":{"x":"independent"},"axis":{"y":"independent"}},
"layer":[
{
"data":{"name":"ohlc"},
"transform":[{"filter":"time(datum.d)>=time('2024-10-29')"}],
"encoding":{
"x":{"field":"d","type":"temporal","title":null,"scale":{"type":"utc","domain":["2024-10-29T18:00:00Z","2025-10-09T20:00:00Z"]},
"axis":{"orient":"bottom","values":["2024-11-02","2024-12-01","2025-01-01","2025-02-01","2025-03-01","2025-04-01","2025-05-01","2025-06-01","2025-07-01","2025-08-01","2025-08-30"],"labelExpr":"utcFormat(datum.value,'%d')=='02'?'ov':utcFormat(datum.value,'%d')=='30'?'Se':utcFormat(datum.value,'%m')=='01'?'2025':utcFormat(datum.value,'%b')","labelPadding":-38,"labelFontSize":23,"labelColor":"#131722","labelFontWeight":{"condition":{"test":"datum.label=='2025'","value":"bold"},"value":"normal"},"ticks":false,"domain":false,"grid":false,"labelOverlap":false,"labelFlush":false}},
"y":{"field":"l","type":"quantitative","title":null,"scale":{"type":"log","domain":[61610,255900],"nice":false},
"axis":{"orient":"right","values":[250000,230000,210000,190000,170000,155000,143000,131000,123000,115000,107000,99500,93500,87500,81500,76500,71500,67100],"format":",.2f","labelAlign":"left","labelPadding":-140,"labelFontSize":23,"labelColor":"#131722","ticks":false,"domain":false,"grid":false,"labelOverlap":false,"labelFlush":false}},
"color":{"condition":{"test":"datum.c>=datum.o","value":"#089981"},"value":"#f23645"}
},
"layer":[
{"mark":{"type":"rule","strokeWidth":1.5},"encoding":{"y2":{"field":"h"}}},
{"mark":{"type":"rule","strokeWidth":3.5},"encoding":{"y":{"field":"o","type":"quantitative","title":null},"y2":{"field":"c"}}}
]
},
{
"data":{"name":"profile2025"},
"transform":[{"calculate":"datum.hi-1130","as":"lo"}],
"encoding":{
"x":{"field":"up","type":"quantitative","axis":null,"scale":{"domain":[-22,1382],"nice":false,"zero":false}},
"y":{"field":"hi","type":"quantitative","axis":null},
"y2":{"field":"lo"}
},
"layer":[
{"mark":{"type":"rect","color":"#66e060","opacity":0.25},"encoding":{"x":{"datum":0,"type":"quantitative","axis":null,"scale":{"domain":[-22,1382],"nice":false,"zero":false}},"x2":{"field":"up"}}},
{"mark":{"type":"rect","color":"#f23645","opacity":0.3},"encoding":{"x2":{"field":"tot"}}}
]
},
{
"encoding":{
"x":{"field":"x","type":"temporal","axis":null,"scale":{"type":"utc","domain":["2024-10-29T18:00:00Z","2025-10-09T20:00:00Z"]}},
"y":{"field":"p","type":"quantitative","axis":null}
},
"layer":[
{"data":{"values":[{"x":"2024-12-17","x2":"2025-09-01","p":108583.06}]},"mark":{"type":"rule","strokeWidth":4.5,"color":"#12b5cb"},"encoding":{"x2":{"field":"x2"}}},
{"data":{"values":[{"x":"2025-05-28T19:00:00Z","x2":"2025-07-24T22:00:00Z","p":111420,"p2":94930}]},
"mark":{"type":"rect","fill":"#f23645","fillOpacity":0.2,"stroke":"#444444","strokeWidth":1.8,"strokeDash":[9,7]},"encoding":{"x2":{"field":"x2"},"y2":{"field":"p2"}}},
{"data":{"values":[{"x":"2024-12-08","x2":"2025-06-29T10:00:00Z","p":96270}]},"mark":{"type":"rule","strokeWidth":4.5,"color":"#f23645"},"encoding":{"x2":{"field":"x2"}}},
{"data":{"values":[{"x":"2024-11-03T12:00:00Z","x2":"2024-12-08","p":96270}]},"mark":{"type":"rule","strokeWidth":4.5,"color":"#b8694a"},"encoding":{"x2":{"field":"x2"}}},
{"data":{"values":[
{"x":"2025-06-25T12:00:00Z","p":107570},{"x":"2025-07-02T20:00:00Z","p":97750},{"x":"2025-07-11","p":106770},{"x":"2025-07-18","p":97750},{"x":"2025-08-14","p":170300}
]},"mark":{"type":"line","strokeWidth":5,"color":"#3ccf2f"}},
{"data":{"values":[{"x":"2025-09-01T06:00:00Z","x2":"2025-10-07T10:00:00Z","p":110370,"p2":106630}]},"mark":{"type":"rect","fill":"#12b5cb","cornerRadius":2},"encoding":{"x2":{"field":"x2"},"y2":{"field":"p2"}}},
{"data":{"values":[{"x":"2025-09-06","p":108583.06,"t":"108,583.06"}]},"mark":{"type":"text","align":"left","baseline":"middle","fontSize":23,"color":"#131722"},"encoding":{"text":{"field":"t"}}},
{"data":{"values":[{"x":"2024-11-26","p":220900,"t":"2025"}]},"mark":{"type":"text","align":"left","baseline":"middle","fontSize":38,"fontWeight":"bold","color":"#131722"},"encoding":{"text":{"field":"t"}}},
{"data":{"values":[{"x":"2025-06-28T19:00:00Z","p":66750}]},"mark":{"type":"point","filled":false,"opacity":1,"color":"#8e3aa8","size":1600,"strokeWidth":3.5,"shape":"circle"}},
{"data":{"values":[{"x":"2025-06-28T19:00:00Z","p":66750}]},"mark":{"type":"point","filled":true,"opacity":1,"color":"#8e3aa8","size":400,"shape":"M.3,-1 L-.8,.2 H-.05 L-.3,1 L.8,-.2 H.05 Z"}},
{"data":{"values":[{"x":"2025-07-02T04:00:00Z","p":67650}]},"mark":{"type":"point","filled":true,"opacity":1,"color":"#e53935","stroke":"#ffffff","strokeWidth":2,"size":160,"shape":"circle"}},
{"data":{"values":[{"x":"2025-08-06","p":58620}]},"mark":{"type":"point","filled":false,"opacity":1,"color":"#d4d4d4","strokeWidth":3,"size":500,"shape":"diamond"}},
{"data":{"values":[{"x":"2025-08-10","p":58620,"t":"@ Stockmoney Lizards"}]},"mark":{"type":"text","align":"left","baseline":"middle","fontSize":25,"color":"#d4d4d4"},"encoding":{"text":{"field":"t"}}}
]
}
]
}
]
}
